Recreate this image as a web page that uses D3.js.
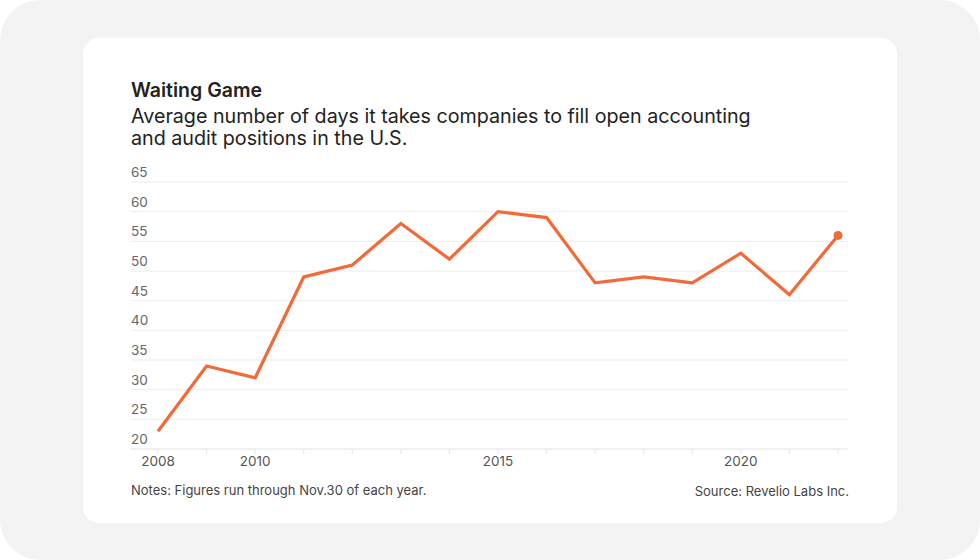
<!DOCTYPE html>
<html>
<head>
<meta charset="utf-8">
<script src="https://cdn.jsdelivr.net/npm/d3@7"></script>
<style>
  html, body { margin: 0; padding: 0; background: #fff; }
  svg { display: block; font-family: Inter, "Noto Sans", sans-serif; }
</style>
</head>
<body>
<svg id="chart"></svg>
<script>
const years = [2008, 2009, 2010, 2011, 2012, 2013, 2014, 2015, 2016, 2017, 2018, 2019, 2020, 2021, 2022];
const days = [23, 34, 32, 49, 51, 58, 52, 60, 59, 48, 49, 48, 53, 46, 56];
const yTicks = [20, 25, 30, 35, 40, 45, 50, 55, 60, 65];
const xLabels = [2008, 2010, 2015, 2020];

const width = 980, height = 560;
const orange = "#f26a38";

const svg = d3.select("#chart")
  .attr("width", width)
  .attr("height", height);

// background + card
svg.append("rect").attr("width", width).attr("height", height)
  .attr("rx", 40).attr("fill", "#f3f3f3");
svg.append("rect").attr("x", 83).attr("y", 38).attr("width", 814).attr("height", 485)
  .attr("rx", 16).attr("fill", "#fff");

const x = d3.scaleLinear().domain([2008, 2022]).range([158, 838]);
const y = d3.scaleLinear().domain([20, 65]).range([449, 182]);
const gridLeft = 131, gridRight = 848;

// title
svg.append("text").attr("x", 131).attr("y", 97)
  .attr("font-size", 19.5).attr("font-weight", 600).attr("fill", "#222")
  .text("Waiting Game");
const sub = svg.append("text").attr("x", 131).attr("y", 123)
  .attr("font-size", 19.7).attr("fill", "#222");
sub.append("tspan").attr("x", 131).text("Average number of days it takes companies to fill open accounting");
sub.append("tspan").attr("x", 131).attr("dy", 22).text("and audit positions in the U.S.");

// grid + y labels
const grid = svg.append("g");
grid.selectAll("line").data(yTicks).join("line")
  .attr("x1", gridLeft).attr("x2", gridRight)
  .attr("y1", d => y(d)).attr("y2", d => y(d))
  .attr("stroke", d => d === 20 ? "#e3e3e3" : "#ececec").attr("stroke-width", 1);
grid.selectAll("text").data(yTicks).join("text")
  .attr("x", gridLeft).attr("y", d => y(d) - 5)
  .attr("font-size", 13.5).attr("fill", "#666")
  .text(d => d);

// x axis ticks
const xa = svg.append("g");
xa.selectAll("line").data(years).join("line")
  .attr("x1", d => x(d)).attr("x2", d => x(d))
  .attr("y1", y(20)).attr("y2", y(20) + 5)
  .attr("stroke", "#e6e6e6");
xa.selectAll("text").data(xLabels).join("text")
  .attr("x", d => x(d)).attr("y", 466)
  .attr("text-anchor", "middle")
  .attr("font-size", 13.5).attr("fill", "#555")
  .text(d => d);

// line
const line = d3.line().x((d, i) => x(years[i])).y(d => y(d));
svg.append("path").datum(days)
  .attr("d", line)
  .attr("fill", "none").attr("stroke", orange)
  .attr("stroke-width", 3.2).attr("stroke-linejoin", "miter");
svg.append("circle")
  .attr("cx", x(years[years.length - 1])).attr("cy", y(days[days.length - 1]))
  .attr("r", 4.5).attr("fill", orange);

// footer
svg.append("text").attr("x", 131).attr("y", 495)
  .attr("font-size", 13).attr("fill", "#444")
  .text("Notes: Figures run through Nov.30 of each year.");
svg.append("text").attr("x", 849).attr("y", 496)
  .attr("text-anchor", "end")
  .attr("font-size", 13).attr("fill", "#444")
  .text("Source: Revelio Labs Inc.");
</script>
</body>
</html>
